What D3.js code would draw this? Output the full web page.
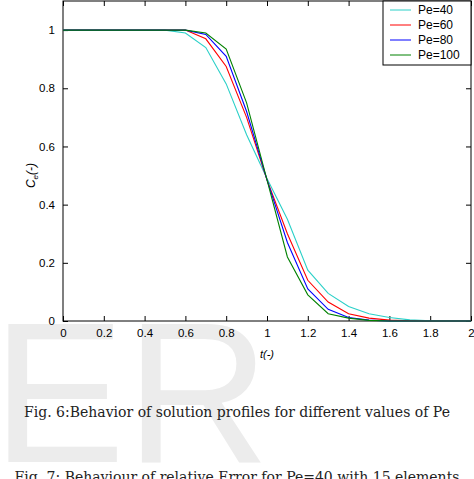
<!DOCTYPE html>
<html><head><meta charset="utf-8">
<script src="https://cdn.jsdelivr.net/npm/d3@7"></script>
<style>body{margin:0;background:#fff}</style></head>
<body><div id="chart"></div>
<script>
var tValues = [0,0.1,0.2,0.3,0.4,0.5,0.6,0.7,0.8,0.9,1.0,1.1,1.2,1.3,1.4,1.5,1.6,1.7,1.8,1.9,2.0];
var pe40  = [1,1,1,1,1,1,0.99,0.94,0.815,0.64,0.49,0.35,0.175,0.095,0.05,0.025,0.012,0.004,0.001,0,0];
var pe60  = [1,1,1,1,1,1,1,0.97,0.875,0.70,0.485,0.30,0.14,0.065,0.025,0.01,0.003,0.001,0,0,0];
var pe80  = [1,1,1,1,1,1,1,0.985,0.91,0.72,0.485,0.27,0.11,0.04,0.012,0.003,0,0,0,0,0];
var pe100 = [1,1,1,1,1,1,1,0.99,0.935,0.75,0.485,0.22,0.09,0.025,0.01,0.002,0,0,0,0,0];
var seriesNames = ['Pe=40','Pe=60','Pe=80','Pe=100'];
var seriesColors = ['#2ad0c8','#ff0000','#0000ff','#008000'];
var series = [pe40, pe60, pe80, pe100];
var xTicks = [0,0.2,0.4,0.6,0.8,1,1.2,1.4,1.6,1.8,2];
var yTicks = [0,0.2,0.4,0.6,0.8,1];

var svg = d3.select('#chart').append('svg').attr('width',474).attr('height',479);

// watermark
svg.append('text').attr('x',-8).attr('y',462).attr('font-family','Liberation Sans, Arial')
  .attr('font-size',200).attr('fill','#ececec').text('ER');

var margin = {left:63, top:1, right:3, bottom:158};
var width = 474 - margin.left - margin.right;
var height = 479 - margin.top - margin.bottom;
var x = d3.scaleLinear().domain([0,2]).range([0,width]);
var y = d3.scaleLinear().domain([0,1.1]).range([height,0]);

var chart = svg.append('g').attr('transform','translate('+margin.left+','+margin.top+')');
chart.append('rect').attr('width',width).attr('height',height).attr('fill','#fff');

function styleAxis(g){
  g.selectAll('path').remove();
  g.selectAll('line').attr('stroke','#000');
  g.selectAll('text').attr('font-family','Liberation Sans, Arial').attr('font-size',11.5).attr('fill','#000');
}
chart.append('g').attr('transform','translate(0,'+height+')')
  .call(d3.axisBottom(x).tickValues(xTicks).tickFormat(d3.format('')).tickSizeInner(-5).tickPadding(8)).call(styleAxis);
chart.append('g').call(d3.axisLeft(y).tickValues(yTicks).tickFormat(d3.format('')).tickSizeInner(-5).tickPadding(8)).call(styleAxis);
chart.append('g').call(d3.axisTop(x).tickValues(xTicks).tickFormat('').tickSizeInner(-5)).call(styleAxis);
chart.append('g').attr('transform','translate('+width+',0)')
  .call(d3.axisRight(y).tickValues(yTicks).tickFormat('').tickSizeInner(-5)).call(styleAxis);
chart.append('rect').attr('width',width).attr('height',height).attr('fill','none').attr('stroke','#000');

var line = d3.line().x(function(d,i){return x(tValues[i]);}).y(function(d){return y(d);});
series.forEach(function(s,k){
  chart.append('path').datum(s).attr('d',line).attr('fill','none')
    .attr('stroke',seriesColors[k]).attr('stroke-width',1.1);
});

// legend
var lg = chart.append('g').attr('transform','translate('+(width-88)+',0)');
lg.append('rect').attr('width',88).attr('height',64).attr('fill','#fff').attr('stroke','#000');
seriesNames.forEach(function(n,k){
  var yy = 9 + k*15;
  lg.append('line').attr('x1',7).attr('x2',28).attr('y1',yy).attr('y2',yy).attr('stroke',seriesColors[k]);
  lg.append('text').attr('x',35).attr('y',yy+4).attr('font-family','Liberation Sans, Arial')
    .attr('font-size',12).text(n);
});

// axis labels
chart.append('text').attr('x',x(1)).attr('y',height+37).attr('text-anchor','middle')
  .attr('font-family','Liberation Sans, Arial').attr('font-style','italic').attr('font-size',11).text('t(-)');
var yl = chart.append('text').attr('transform','translate(-28,'+y(0.5)+') rotate(-90)')
  .attr('text-anchor','middle').attr('font-family','Liberation Sans, Arial').attr('font-style','italic').attr('font-size',12);
yl.append('tspan').text('C');
yl.append('tspan').attr('font-size',8).attr('dy',3).text('e');
yl.append('tspan').attr('dy',-3).text('(-)');

// captions
svg.append('text').attr('x',237).attr('y',417).attr('text-anchor','middle')
  .attr('font-family','DejaVu Serif, Liberation Serif').attr('font-size',14).attr('fill','#222')
  .text('Fig. 6:Behavior of solution profiles for different values of Pe');
svg.append('text').attr('x',237).attr('y',482).attr('text-anchor','middle')
  .attr('font-family','DejaVu Serif, Liberation Serif').attr('font-size',14).attr('fill','#222')
  .text('Fig. 7: Behaviour of relative Error for Pe=40 with 15 elements');
</script></body></html>
